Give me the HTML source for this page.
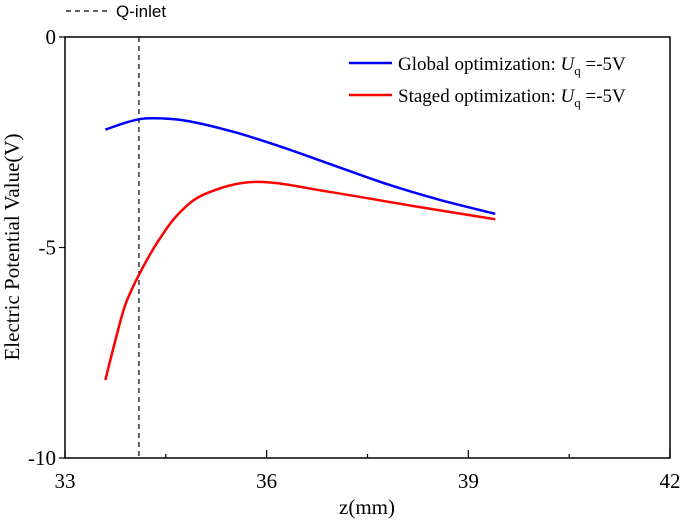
<!DOCTYPE html>
<html><head><meta charset="utf-8"><style>
body{margin:0;background:#fff;}
svg{display:block;font-family:"Liberation Serif",serif;}
</style></head><body>
<svg id="chart" width="685" height="520">
  <g>
    <line x1="66" y1="11" x2="108" y2="11" stroke="#000" stroke-width="1.2" stroke-dasharray="5,4"/>
    <text x="116" y="17" font-size="17" font-family="Liberation Sans, sans-serif">Q-inlet</text>
  </g>
  <rect x="65" y="37" width="605" height="421" fill="none" stroke="#000" stroke-width="1.5"/>
  <g id="axes"></g>
  <g id="series"></g>
  <g>
    <g>
      <line x1="349" y1="63" x2="392" y2="63" stroke="#0000ff" stroke-width="2.5"/>
      <text x="398" y="70" font-size="19">Global optimization: <tspan font-style="italic">U</tspan><tspan font-size="13" dy="5">q</tspan><tspan dy="-5"> =-5V</tspan></text>
    </g>
    <g>
      <line x1="349" y1="95" x2="392" y2="95" stroke="#ff0000" stroke-width="2.5"/>
      <text x="398" y="102" font-size="19">Staged optimization: <tspan font-style="italic">U</tspan><tspan font-size="13" dy="5">q</tspan><tspan dy="-5"> =-5V</tspan></text>
    </g>
  </g>
  <text x="367" y="514" font-size="21" text-anchor="middle">z(mm)</text>
  <text transform="translate(19,247) rotate(-90)" font-size="21" text-anchor="middle">Electric Potential Value(V)</text>
</svg>
<script>
const xTicks=[33,36,39,42];
const xMinor=[34.5,37.5,40.5];
const yTicks=[0,-5,-10];
const qInlet=34.1;
const globalZ=[33.6,34.0,34.3,34.8,35.5,36.2,37.0,37.8,38.6,39.4];
const globalV=[-2.2,-1.99,-1.93,-1.99,-2.25,-2.6,-3.05,-3.5,-3.88,-4.2];
const stagedZ=[33.6,33.75,33.9,34.1,34.37,34.7,35.11,35.86,36.94,38.2,39.4];
const stagedV=[-8.15,-7.2,-6.35,-5.65,-4.89,-4.18,-3.71,-3.44,-3.68,-4.02,-4.33];
const X=z=>65+(z-33)*(605/9);
const Y=v=>37+(0-v)*(421/10);
const ns="http://www.w3.org/2000/svg";
function mk(t,a,p){const e=document.createElementNS(ns,t);for(const k in a)e.setAttribute(k,a[k]);p.appendChild(e);return e;}
const ax=document.getElementById('axes');
xTicks.forEach(t=>{
  const l=mk('line',{x1:X(t),x2:X(t),y1:458,y2:450,stroke:'#000','stroke-width':1.2},ax);
  
  
  const tx=mk('text',{x:X(t),y:488,'font-size':21,'text-anchor':'middle'},ax);tx.textContent=t;
  
  
});
xMinor.forEach(t=>{
  const l=mk('line',{x1:X(t),x2:X(t),y1:458,y2:454,stroke:'#000','stroke-width':1.2},ax);
  
  
});
yTicks.forEach(t=>{
  const l=mk('line',{x1:65,x2:59,y1:Y(t),y2:Y(t),stroke:'#000','stroke-width':1.2},ax);
  
  
  const tx=mk('text',{x:56,y:Y(t)+7,'font-size':21,'text-anchor':'end'},ax);tx.textContent=t;
  
  
});
const s=document.getElementById('series');
const q=mk('line',{x1:X(qInlet),x2:X(qInlet),y1:37,y2:458,stroke:'#000','stroke-width':1.2,'stroke-dasharray':'5,4'},s);


function path(zs,vs){
  const p=zs.map((z,i)=>[X(z),Y(vs[i])]);
  let d='M'+p[0][0]+','+p[0][1];
  for(let i=0;i<p.length-1;i++){
    const p0=p[i-1]||p[i],p1=p[i],p2=p[i+1],p3=p[i+2]||p2;
    const c1=[p1[0]+(p2[0]-p0[0])/6,p1[1]+(p2[1]-p0[1])/6];
    const c2=[p2[0]-(p3[0]-p1[0])/6,p2[1]-(p3[1]-p1[1])/6];
    d+=' C'+c1+' '+c2+' '+p2;
  }
  return d;
}
const g=mk('path',{d:path(globalZ,globalV),fill:'none',stroke:'#0000ff','stroke-width':2.5},s);


const r=mk('path',{d:path(stagedZ,stagedV),fill:'none',stroke:'#ff0000','stroke-width':2.5},s);


</script>
</body></html>
